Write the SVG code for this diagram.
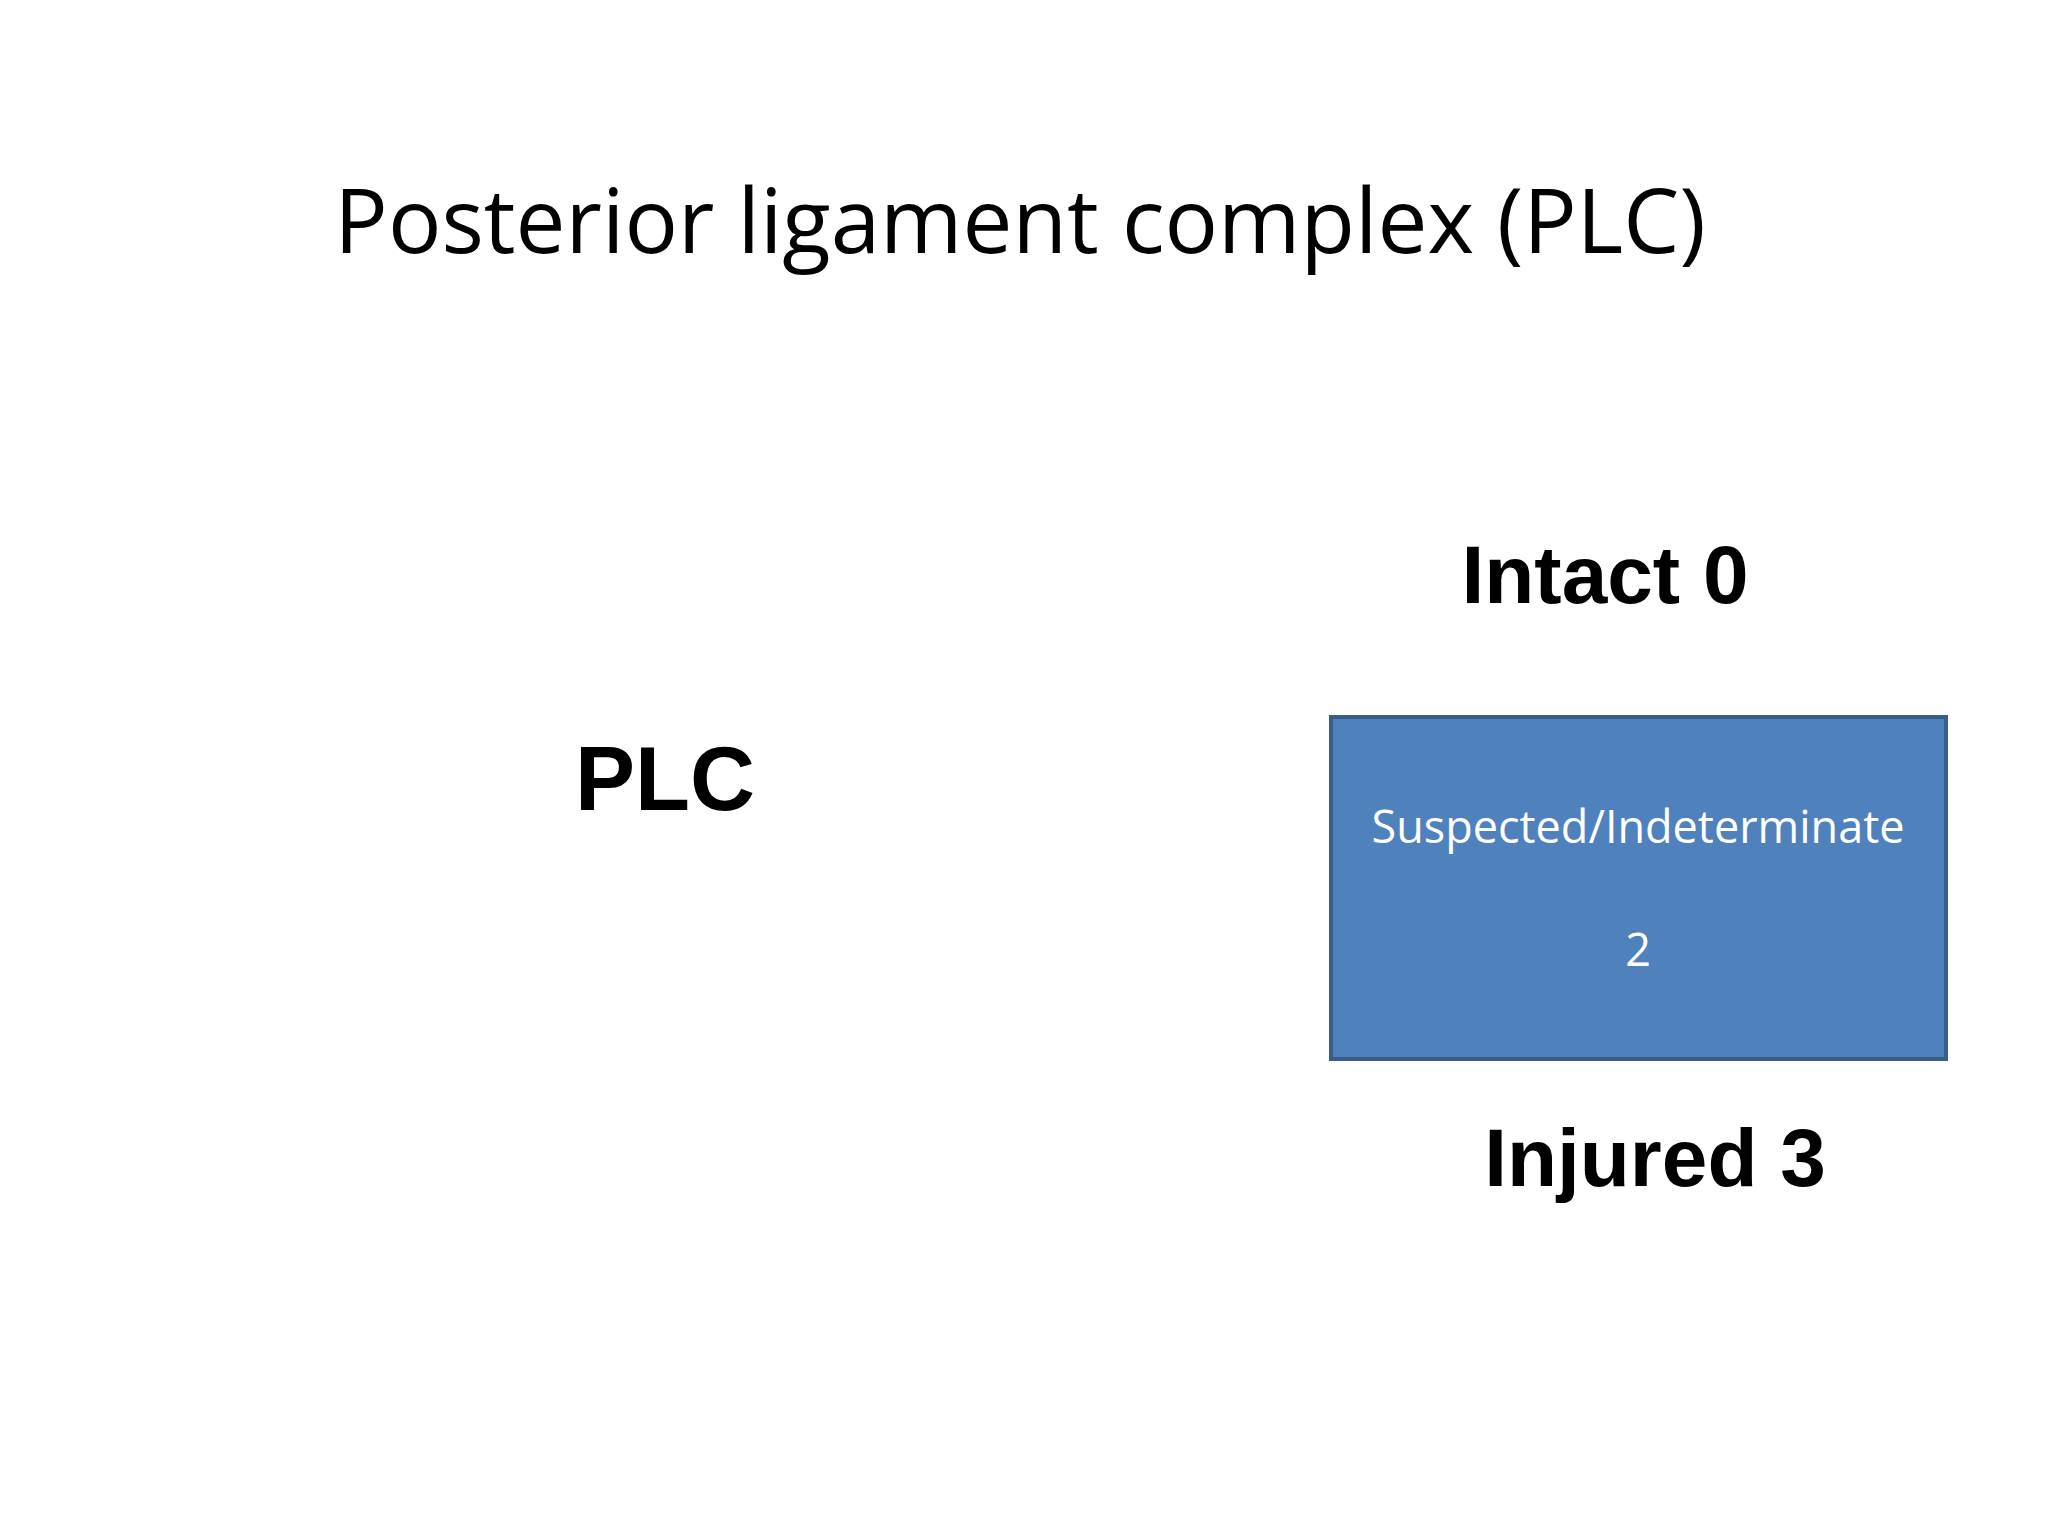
<svg xmlns="http://www.w3.org/2000/svg" width="2048" height="1536" viewBox="0 0 2048 1536">
<style>
.title{font-family:"Open Sans","Liberation Sans",sans-serif;font-size:89px;fill:#000}
.lbl{font-family:"Liberation Sans",Arial,sans-serif;font-weight:bold;font-size:82px;fill:#000}
.box{fill:#4f81bd;stroke:#385d8a;stroke-width:4}
.boxtxt{font-family:"Open Sans","Liberation Sans",sans-serif;font-size:45px;fill:#fff}
</style>
<rect width="2048" height="1536" fill="#fff"/>
<text class="title" x="1020" y="253" text-anchor="middle">Posterior ligament complex (PLC)</text>
<g id="plc"><text class="lbl" x="665" y="810" text-anchor="middle" style="font-size:90px">PLC</text></g>
<g id="intact"><text class="lbl" x="1605" y="603" text-anchor="middle">Intact 0</text></g>
<g id="suspected">
<rect class="box" x="1331" y="717" width="615" height="342"/>
<text class="boxtxt" x="1638" y="843" text-anchor="middle">Suspected/Indeterminate</text>
<text class="boxtxt" x="1638" y="966" text-anchor="middle">2</text>
</g>
<g id="injured"><text class="lbl" x="1655" y="1186" text-anchor="middle">Injured 3</text></g>
<g id="connectors"></g>
</svg>
